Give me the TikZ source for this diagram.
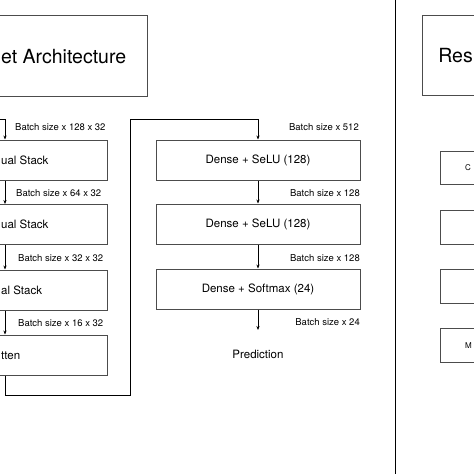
\documentclass[tikz,border=0pt]{standalone}
\usepackage{fontspec}
\setmainfont{TeX Gyre Heros}
\usetikzlibrary{arrows.meta,positioning}
\tikzset{
	layer/.style = {draw=black!70, line width=1pt, minimum height=40pt, inner sep=0pt},
	sidebox/.style = {draw=black!70, line width=1pt, inner sep=0pt},
	arr/.style = {black, line width=0.7pt, -{Stealth[length=4pt, width=3.2pt]}},
	titlefont/.style = {font=\fontsize{19.5}{23}\selectfont, inner sep=0pt},
	boxfont/.style = {font=\fontsize{11.5}{14}\selectfont, inner sep=0pt},
	dimfont/.style = {font=\fontsize{9.5}{11}\selectfont, inner sep=0pt},
	smallfont/.style = {font=\fontsize{8}{10}\selectfont, inner sep=0pt}
}
\begin{document}
\begin{tikzpicture}[x=1pt, y=-1pt]
	\useasboundingbox (0,0) rectangle (474,474);
	\clip (0,0) rectangle (474,474);
	\fill[white] (0,0) rectangle (474,474);
	% left title
	\node[sidebox, minimum width=267pt, minimum height=81pt] (ttl) at (13.5,55.5) {};
	\node[titlefont, anchor=base west] (ttltxt) at (1,63) {et Architecture};
	% residual stacks + flatten
	\node[layer, minimum width=167pt] (rs1) at (23.5,160) {};
	\node[layer, minimum width=167pt] (rs2) at (23.5,224.5) {};
	\node[layer, minimum width=167pt] (rs3) at (23.5,290) {};
	\node[layer, minimum width=167pt] (fl) at (23.5,355) {};
	\node[boxfont, anchor=base west] (rs1txt) at (1,164) {ual Stack};
	\node[boxfont, anchor=base west] (rs2txt) at (1,228.5) {ual Stack};
	\node[boxfont, anchor=base west] (rs3txt) at (1,294) {al Stack};
	\node[boxfont, anchor=base west] (fltxt) at (1,359) {tten};
	\coordinate (ax) at (5,0);
	\coordinate (in) at (-5,119);
	\draw[arr] (in) -| (rs1.north -| ax);
	\draw[arr] (rs1.south -| ax) -- (rs2.north -| ax);
	\draw[arr] (rs2.south -| ax) -- (rs3.north -| ax);
	\draw[arr] (rs3.south -| ax) -- (fl.north -| ax);
	\node[dimfont, anchor=west] (b1) at (15,127) {Batch size x 128 x 32};
	\node[dimfont, anchor=west] (b2) at (16,193) {Batch size x 64 x 32};
	\node[dimfont, anchor=west] (b3) at (18,258) {Batch size x 32 x 32};
	\node[dimfont, anchor=west] (b4) at (18,323) {Batch size x 16 x 32};
	% dense head
	\node[layer, boxfont, minimum width=204pt] (d1) at (258,160) {Dense + SeLU (128)};
	\node[layer, boxfont, minimum width=204pt] (d2) at (258,224) {Dense + SeLU (128)};
	\node[layer, boxfont, minimum width=204pt] (d3) at (258,289) {Dense + Softmax (24)};
	\node[boxfont] (pred) at (258,354) {Prediction};
	\coordinate (loopbot) at (130,395);
	\coordinate (looptop) at (130,119);
	\coordinate (predtop) at (258,330);
	\draw[arr] (fl.south -| ax) |- (loopbot) -- (looptop) -| (d1.north);
	\draw[arr] (d1) -- (d2);
	\draw[arr] (d2) -- (d3);
	\draw[arr] (d3) -- (predtop);
	\node[dimfont, anchor=east] (b5) at (359,127) {Batch size x 512};
	\node[dimfont, anchor=east] (b6) at (360,193) {Batch size x 128};
	\node[dimfont, anchor=east] (b7) at (360,258) {Batch size x 128};
	\node[dimfont, anchor=east] (b8) at (360,322) {Batch size x 24};
	% divider
	\draw[black, line width=1.8pt] (395.5,-5) -- (395.5,480);
	% right panel
	\node[sidebox, minimum width=178pt, minimum height=80pt] (rttl) at (511,55) {};
	\node[titlefont, anchor=base east] (rttltxt) at (473,62) {Res};
	\node[sidebox, minimum width=100pt, minimum height=33pt] (r1) at (490,167.5) {};
	\node[sidebox, minimum width=100pt, minimum height=34pt] (r2) at (490,227) {};
	\node[sidebox, minimum width=100pt, minimum height=34pt] (r3) at (490,286) {};
	\node[sidebox, minimum width=100pt, minimum height=34pt] (r4) at (490,345) {};
	\node[smallfont, anchor=west] (r1txt) at (465,168) {C};
	\node[smallfont, anchor=west] (r4txt) at (465,345.5) {M};
\end{tikzpicture}
\end{document}
